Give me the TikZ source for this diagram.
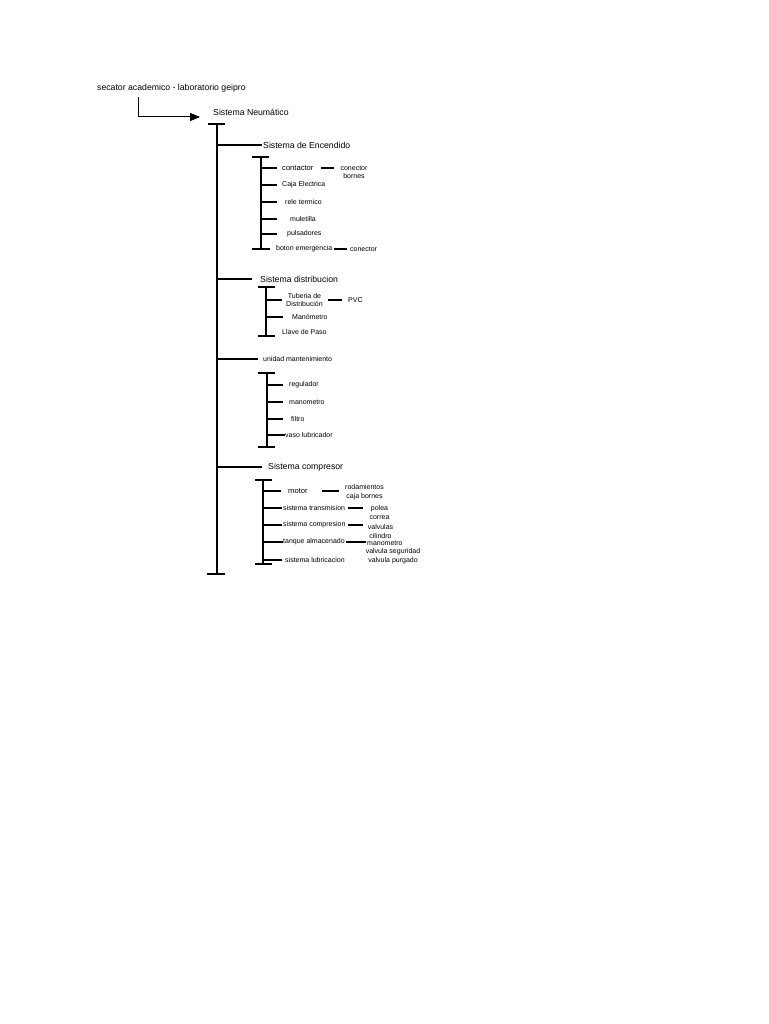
\documentclass[tikz,border=0pt]{standalone}
\usepackage{fontspec}
\setmainfont{Liberation Sans}
\usetikzlibrary{arrows.meta}
\begin{document}
\begin{tikzpicture}[x=1pt,y=-1pt,
  ln/.style={line width=1.2pt,black},
  big/.style={font=\fontsize{8.7}{10}\selectfont,inner sep=0pt,anchor=west},
  mid/.style={font=\fontsize{7.6}{9}\selectfont,inner sep=0pt,anchor=west},
  sml/.style={font=\fontsize{7}{8.5}\selectfont,inner sep=0pt,anchor=west},
  grp/.style={font=\fontsize{7}{8.5}\selectfont,inner sep=0pt,align=center},
  tip/.style={-{Triangle[length=10pt,width=8pt]}}
]
\useasboundingbox[fill=white] (0,0) rectangle (768,1024);

% title and arrow
\node[big] (sec) at (97,88) {secator academico - laboratorio geipro};
\node[big] (neu) at (213,112) {Sistema Neumático};
\coordinate (a0) at (138,97);
\coordinate (a1) at (200,117);
\draw[ln,line width=1pt,tip] (a0) |- (a1);

% main bar
\coordinate (mt) at (217,124);
\coordinate (mb) at (217,574);
\draw[ln] (mt) -- (mb);
\draw[ln] ([xshift=-9pt]mt) -- ([xshift=8pt]mt);
\draw[ln] ([xshift=-10pt]mb) -- ([xshift=8pt]mb);

% main branches
\node[big] (enc) at (263,145) {Sistema de Encendido};
\node[big] (dis) at (260,279) {Sistema distribucion};
\node[sml] (uni) at (263,359) {unidad mantenimiento};
\node[big] (com) at (268,467) {Sistema compresor};
\draw[ln,shorten >=1pt] (enc.west -| mt) -- (enc.west);
\draw[ln,shorten >=8pt] (dis.west -| mt) -- (dis.west);
\draw[ln,shorten >=5pt] (uni.west -| mt) -- (uni.west);
\draw[ln,shorten >=6pt] (com.west -| mt) -- (com.west);

% group 1: Sistema de Encendido
\coordinate (g1t) at (261,157);
\coordinate (g1b) at (261,249);
\draw[ln] (g1t) -- (g1b);
\draw[ln] ([xshift=-9pt]g1t) -- ([xshift=8pt]g1t);
\draw[ln] ([xshift=-9pt]g1b) -- ([xshift=9pt]g1b);
\node[mid] (ct) at (282,168) {contactor};
\node[grp] (cb) at (354,172.5) {conector\\bornes};
\node[sml] (ce) at (282,185) {Caja Electrica};
\node[sml] (rt) at (285,202) {rele termico};
\node[sml] (mu) at (290,219) {muletilla};
\node[sml] (pu) at (287,234) {pulsadores};
\node[sml] (be) at (276,249) {boton emergencia};
\node[sml] (bc) at (350,249) {conector};
\draw[ln,shorten >=5pt] (ct.west -| g1t) -- (ct.west);
\draw[ln,shorten <=7pt,shorten >=6pt] (ct.east) -- (ct.east -| cb.west);
\draw[ln,shorten >=5pt] (ce.west -| g1t) -- (ce.west);
\draw[ln,shorten >=8pt] (rt.west -| g1t) -- (rt.west);
\draw[ln,shorten >=13pt] (mu.west -| g1t) -- (mu.west);
\draw[ln,shorten >=10pt] (pu.west -| g1t) -- (pu.west);
\draw[ln,shorten <=2pt,shorten >=3pt] (be.east) -- (bc.west);

% group 2: Sistema distribucion
\coordinate (g2t) at (266,287);
\coordinate (g2b) at (266,336);
\draw[ln] (g2t) -- (g2b);
\draw[ln] ([xshift=-8pt]g2t) -- ([xshift=9pt]g2t);
\draw[ln] ([xshift=-8pt]g2b) -- ([xshift=9pt]g2b);
\node[grp] (tu) at (304.5,300) {Tuberia de\\Distribución};
\node[sml] (pvc) at (348,300) {PVC};
\node[sml] (ma) at (292,317) {Manómetro};
\node[sml] (ll) at (282,332) {Llave de Paso};
\draw[ln,shorten >=4pt] (tu.west -| g2t) -- (tu.west);
\draw[ln,shorten <=5pt,shorten >=6pt] (tu.east) -- (pvc.west);
\draw[ln,shorten >=9pt] (ma.west -| g2t) -- (ma.west);

% group 3: unidad mantenimiento
\coordinate (g3t) at (267,373);
\coordinate (g3b) at (267,447);
\draw[ln] (g3t) -- (g3b);
\draw[ln] ([xshift=-9pt]g3t) -- ([xshift=8pt]g3t);
\draw[ln] ([xshift=-9pt]g3b) -- ([xshift=8pt]g3b);
\node[sml] (re) at (289,385) {regulador};
\node[sml] (mn) at (289,402) {manometro};
\node[sml] (fi) at (291,419) {filtro};
\node[sml] (va) at (285,435) {vaso lubricador};
\draw[ln,shorten >=6pt] (re.west -| g3t) -- (re.west);
\draw[ln,shorten >=6pt] (mn.west -| g3t) -- (mn.west);
\draw[ln,shorten >=8pt] (fi.west -| g3t) -- (fi.west);
\draw[ln,shorten >=0.5pt] (va.west -| g3t) -- (va.west);

% group 4: Sistema compresor
\coordinate (g4t) at (263,480);
\coordinate (g4b) at (263,564);
\draw[ln] (g4t) -- (g4b);
\draw[ln] ([xshift=-8pt]g4t) -- ([xshift=9pt]g4t);
\draw[ln] ([xshift=-8pt]g4b) -- ([xshift=9pt]g4b);
\node[mid] (mo) at (288,491) {motor};
\node[grp] (rd) at (364.5,492) {rodamientos\\caja bornes};
\node[sml] (st) at (283,508) {sistema transmision};
\node[grp] (pc) at (379.5,512.5) {polea\\correa};
\node[sml] (sc) at (283,525) {sistema compresion};
\node[grp] (vc) at (380.5,531.5) {valvulas\\cilindro};
\node[sml] (ta) at (283,542) {tanque almacenado};
\node[sml] (mm) at (367,543) {manometro};
\node[grp] (vs) at (393,556) {valvula seguridad\\valvula purgado};
\node[sml] (sl) at (285,560) {sistema lubricacion};
\draw[ln,shorten >=7pt] (mo.west -| g4t) -- (mo.west);
\draw[ln,shorten <=14pt,shorten >=6pt] (mo.east) -- (mo.east -| rd.west);
\draw[ln,shorten >=1pt] (st.west -| g4t) -- (st.west);
\draw[ln,shorten <=3pt,shorten >=6.5pt] (st.east) -- (st.east -| pc.west);
\draw[ln,shorten >=1pt] (sc.west -| g4t) -- (sc.west);
\draw[ln,shorten <=2pt,shorten >=5pt] (sc.east) -- (sc.east -| vc.west);
\draw[ln,shorten >=0pt] (ta.west -| g4t) -- (ta.west);
\draw[ln,shorten <=1pt,shorten >=1pt] (ta.east) -- (ta.east -| mm.west);
\draw[ln,shorten >=3pt] (sl.west -| g4t) -- (sl.west);
\end{tikzpicture}
\end{document}
